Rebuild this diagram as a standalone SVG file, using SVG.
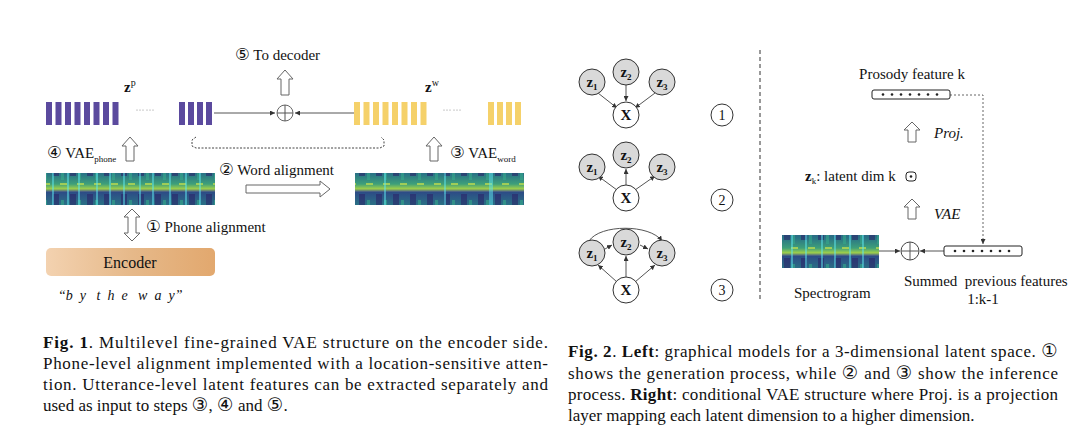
<svg xmlns="http://www.w3.org/2000/svg" width="1080" height="439" viewBox="0 0 1080 439">
<defs>
<style>
text{font-family:"Liberation Serif","Times New Roman",serif;fill:#111}
.c{font-family:"DejaVu Sans",sans-serif;font-size:1.1em}
.lbl{font-size:15px}
.cap{font-size:17px}
.p{fill:#5b4a9e}
.y{fill:#f5d16a}
.hol{fill:#fff;stroke:#666;stroke-width:1}
.ln{stroke:#555;stroke-width:1;fill:none}
.node{fill:#d9d9d9;stroke:#333;stroke-width:1}
.xn{fill:#fff;stroke:#333;stroke-width:1}
.nt{font-size:15px;font-weight:bold;text-anchor:middle}
.dd{fill:#888}
</style>
<marker id="ah" viewBox="0 0 6 6" refX="6" refY="3" markerWidth="5" markerHeight="5" orient="auto"><path d="M0,0L6,3L0,6z" fill="#333"/></marker>
<linearGradient id="enc" x1="0" y1="0" x2="1" y2="0"><stop offset="0" stop-color="#f3d2b0"/><stop offset="0.5" stop-color="#e6b98a"/><stop offset="1" stop-color="#e2a86e"/></linearGradient>
<linearGradient id="spv" x1="0" y1="0" x2="0" y2="1"><stop offset="0" stop-color="#2d4b86"/><stop offset="0.45" stop-color="#2a7585"/><stop offset="0.75" stop-color="#3e9f7a"/><stop offset="0.9" stop-color="#9fcf4a"/><stop offset="1" stop-color="#3b4f90"/></linearGradient>
<pattern id="sp" width="17" height="32" patternUnits="userSpaceOnUse"><rect width="17" height="32" fill="url(#spv)"/><rect x="2" y="2" width="6" height="14" fill="#2a1f66" opacity="0.55"/><rect x="10" y="8" width="3" height="12" fill="#36a98a" opacity="0.6"/><rect x="9" y="23" width="7" height="2" fill="#c8e04a" opacity="0.7"/></pattern>
</defs>

<g id="fig1">
<g id="zp"><text x="124" y="92" class="lbl" font-weight="bold">z<tspan font-size="10" dy="-6" font-weight="normal">p</tspan></text>
<rect class="p" x="46" y="102" width="6" height="23"/><rect class="p" x="55.5" y="102" width="6" height="23"/><rect class="p" x="65" y="102" width="6" height="23"/><rect class="p" x="74.5" y="102" width="6" height="23"/><rect class="p" x="84" y="102" width="6" height="23"/><rect class="p" x="93.5" y="102" width="6" height="23"/><rect class="p" x="103" y="102" width="6" height="23"/><rect class="p" x="112.5" y="102" width="6" height="23"/>
<g class="dd"><circle cx="137" cy="110" r="0.6"/><circle cx="140" cy="110" r="0.6"/><circle cx="143" cy="110" r="0.6"/><circle cx="147" cy="110" r="0.6"/><circle cx="150" cy="110" r="0.6"/><circle cx="153" cy="110" r="0.6"/></g>
<rect class="p" x="179" y="102" width="6" height="23"/><rect class="p" x="188" y="102" width="6" height="23"/><rect class="p" x="197" y="102" width="6" height="23"/><rect class="p" x="206" y="102" width="6" height="23"/></g>
<g id="zw"><text x="425" y="92" class="lbl" font-weight="bold">z<tspan font-size="10" dy="-6" font-weight="normal">w</tspan></text>
<rect class="y" x="354" y="102" width="6" height="23"/><rect class="y" x="363.5" y="102" width="6" height="23"/><rect class="y" x="373" y="102" width="6" height="23"/><rect class="y" x="382.5" y="102" width="6" height="23"/><rect class="y" x="392" y="102" width="6" height="23"/><rect class="y" x="401.5" y="102" width="6" height="23"/><rect class="y" x="411" y="102" width="6" height="23"/><rect class="y" x="420.5" y="102" width="6" height="23"/>
<g class="dd"><circle cx="444" cy="110" r="0.6"/><circle cx="447" cy="110" r="0.6"/><circle cx="450" cy="110" r="0.6"/><circle cx="454" cy="110" r="0.6"/><circle cx="457" cy="110" r="0.6"/><circle cx="460" cy="110" r="0.6"/></g>
<rect class="y" x="488" y="102" width="6" height="23"/><rect class="y" x="497" y="102" width="6" height="23"/><rect class="y" x="506" y="102" width="6" height="23"/><rect class="y" x="515" y="102" width="6" height="23"/></g>
<g id="sum1"><circle cx="285" cy="113" r="8" fill="#fff" stroke="#666"/><path class="ln" d="M277,113H293M285,105V121"/></g>
<g id="todec"><text x="235" y="60" class="lbl"><tspan class="c">⑤</tspan> To decoder</text>
<path class="hol" d="M281,95V79H277L285,70L293,79H289V95Z"/></g>
<g id="vaep"><text x="47" y="158" class="lbl"><tspan class="c">④</tspan> VAE<tspan font-size="9" dy="4">phone</tspan></text>
<path class="hol" d="M126,161V146H122L130,137L138,146H134V161Z"/></g>
<g id="vaew"><text x="450" y="158" class="lbl"><tspan class="c">③</tspan> VAE<tspan font-size="9" dy="4">word</tspan></text>
<path class="hol" d="M430,161V146H426L434,137L442,146H438V161Z"/></g>
<g id="spec1"><rect x="46" y="173" width="169" height="32" fill="url(#sp)"/>
<path stroke="#5ee8f0" stroke-width="1" d="M53,173v32M68,173v32M79,173v32M97,173v32M110,173v32M124,173v32M140,173v32M153,173v32M170,173v32M186,173v32M200,173v32"/></g>
<g id="spec2"><rect x="355" y="173" width="169" height="32" fill="url(#sp)"/>
<path stroke="#5ee8f0" stroke-width="1" d="M385,173v32M445,173v32M490,173v32M492,173v32"/></g>
<g id="wordal"><text x="219" y="175" class="lbl"><tspan class="c">②</tspan> Word alignment</text>
<path class="hol" d="M246,185H320V181L330,189L320,197V193H246Z"/></g>
<g id="phoneal"><path class="hol" d="M128,217H124L132,209L140,217H136V233H140L132,241L124,233H128Z"/>
<text x="146" y="232" class="lbl"><tspan class="c">①</tspan> Phone alignment</text></g>
<g id="encoder"><rect x="46" y="248" width="169" height="28" rx="5" fill="url(#enc)"/><text x="130" y="268" font-size="16" text-anchor="middle">Encoder</text></g>
<text x="58" y="300" font-size="14" font-style="italic" xml:space="preserve">“b  y   t  h  e   w  a  y”</text>
</g>

<g id="connectors1">
<path class="ln" d="M214,113H275" marker-end="url(#ah)"/>
<path class="ln" d="M354,113H295" marker-end="url(#ah)"/>
<path d="M196,137L192,140V146L196,148H380L384,146V140L381,137" fill="none" stroke="#444" stroke-dasharray="2,1.5"/>
</g>

<g id="cap1" class="cap">
<text x="43" y="348" textLength="505" lengthAdjust="spacing"><tspan font-weight="bold">Fig. 1</tspan>.  Multilevel fine-grained VAE structure on the encoder side.</text>
<text x="43" y="369" textLength="505" lengthAdjust="spacing">Phone-level alignment implemented with a location-sensitive atten-</text>
<text x="43" y="390" textLength="505" lengthAdjust="spacing">tion. Utterance-level latent features can be extracted separately and</text>
<text x="43" y="411">used as input to steps <tspan class="c">③</tspan>, <tspan class="c">④</tspan> and <tspan class="c">⑤</tspan>.</text>
</g>

<line x1="760" y1="50" x2="760" y2="300" stroke="#333" stroke-dasharray="4,3"/>

<g id="connectors2">
<path class="ln" d="M598,93L617,108" marker-end="url(#ah)"/><path class="ln" d="M626,85V101" marker-end="url(#ah)"/><path class="ln" d="M655,93L635,108" marker-end="url(#ah)"/>
<path class="ln" d="M617,190L598,176" marker-end="url(#ah)"/><path class="ln" d="M626,185V169" marker-end="url(#ah)"/><path class="ln" d="M635,190L655,176" marker-end="url(#ah)"/>
<path class="ln" d="M617,282L598,265" marker-end="url(#ah)"/><path class="ln" d="M626,277V256" marker-end="url(#ah)"/><path class="ln" d="M635,282L655,265" marker-end="url(#ah)"/>
<path class="ln" d="M605,249L612,245" marker-end="url(#ah)"/><path class="ln" d="M640,245L648,249" marker-end="url(#ah)"/>
<path class="ln" d="M589,241C600,224 650,224 662,241" marker-end="url(#ah)"/>
<path class="ln" d="M879,251H900" marker-end="url(#ah)"/>
<path class="ln" d="M944,251H920" marker-end="url(#ah)"/>
<path d="M950,95H983V244" fill="none" stroke="#666" stroke-dasharray="2,2" marker-end="url(#ah)"/>
</g>

<g id="g1"><circle class="node" cx="592" cy="82" r="13"/><text class="nt" x="592" y="87">z<tspan font-size="9" dy="3">1</tspan></text>
<circle class="node" cx="626" cy="72" r="13"/><text class="nt" x="626" y="77">z<tspan font-size="9" dy="3">2</tspan></text>
<circle class="node" cx="662" cy="82" r="13"/><text class="nt" x="662" y="87">z<tspan font-size="9" dy="3">3</tspan></text>
<circle class="xn" cx="626" cy="115" r="13"/><text class="nt" x="626" y="120">X</text></g>
<g id="g2"><circle class="node" cx="592" cy="167" r="13"/><text class="nt" x="592" y="172">z<tspan font-size="9" dy="3">1</tspan></text>
<circle class="node" cx="626" cy="155" r="13"/><text class="nt" x="626" y="160">z<tspan font-size="9" dy="3">2</tspan></text>
<circle class="node" cx="662" cy="167" r="13"/><text class="nt" x="662" y="172">z<tspan font-size="9" dy="3">3</tspan></text>
<circle class="xn" cx="626" cy="198" r="13"/><text class="nt" x="626" y="203">X</text></g>
<g id="g3"><circle class="node" cx="592" cy="253" r="13"/><text class="nt" x="592" y="258">z<tspan font-size="9" dy="3">1</tspan></text>
<circle class="node" cx="626" cy="242" r="13"/><text class="nt" x="626" y="247">z<tspan font-size="9" dy="3">2</tspan></text>
<circle class="node" cx="662" cy="253" r="13"/><text class="nt" x="662" y="258">z<tspan font-size="9" dy="3">3</tspan></text>
<circle class="xn" cx="626" cy="290" r="13"/><text class="nt" x="626" y="295">X</text></g>
<g id="nums"><circle cx="722" cy="115" r="11" fill="#fff" stroke="#333"/><text x="722" y="120" font-size="14" text-anchor="middle" font-family="Liberation Sans,sans-serif">1</text>
<circle cx="722" cy="200" r="11" fill="#fff" stroke="#333"/><text x="722" y="205" font-size="14" text-anchor="middle" font-family="Liberation Sans,sans-serif">2</text>
<circle cx="722" cy="290" r="11" fill="#fff" stroke="#333"/><text x="722" y="295" font-size="14" text-anchor="middle" font-family="Liberation Sans,sans-serif">3</text></g>

<g id="pros"><text x="912" y="79" class="lbl" text-anchor="middle">Prosody feature k</text>
<rect x="872" y="90" width="78" height="9" rx="2" fill="#fff" stroke="#222"/>
<g fill="#222"><circle cx="883" cy="94.5" r="1.3"/><circle cx="892" cy="94.5" r="1.3"/><circle cx="901" cy="94.5" r="1.3"/><circle cx="910" cy="94.5" r="1.3"/><circle cx="919" cy="94.5" r="1.3"/><circle cx="928" cy="94.5" r="1.3"/><circle cx="937" cy="94.5" r="1.3"/></g></g>
<g id="proj"><path class="hol" d="M908,142V130H904L912,122L920,130H916V142Z"/><text x="934" y="138" class="lbl" font-style="italic">Proj.</text></g>
<g id="zk"><text x="805" y="181" class="lbl"><tspan font-weight="bold">z</tspan><tspan font-size="9" dy="3">k</tspan><tspan dy="-3">: latent dim k</tspan></text>
<rect x="906" y="172" width="10" height="9" rx="3" fill="#fff" stroke="#222"/><circle cx="911" cy="176.5" r="1.3" fill="#222"/></g>
<g id="vae"><path class="hol" d="M908,219V207H904L912,199L920,207H916V219Z"/><text x="934" y="219" class="lbl" font-style="italic">VAE</text></g>
<g id="spec3"><rect x="782" y="235" width="97" height="33" fill="url(#sp)"/>
<path stroke="#5ee8f0" stroke-width="1" d="M792,235v33M806,235v33M822,235v33M835,235v33M850,235v33M863,235v33"/><text x="794" y="298" class="lbl">Spectrogram</text></g>
<g id="sum2"><circle cx="910" cy="251" r="9" fill="#fff" stroke="#444"/><path class="ln" d="M901,251H919M910,242V260"/></g>
<g id="summed"><rect x="944" y="246" width="78" height="10" rx="2" fill="#fff" stroke="#222"/>
<g fill="#222"><circle cx="955" cy="251" r="1.3"/><circle cx="964" cy="251" r="1.3"/><circle cx="973" cy="251" r="1.3"/><circle cx="982" cy="251" r="1.3"/><circle cx="991" cy="251" r="1.3"/><circle cx="1000" cy="251" r="1.3"/><circle cx="1009" cy="251" r="1.3"/></g>
<text x="904" y="286" class="lbl" xml:space="preserve">Summed  previous features</text><text x="983" y="304" class="lbl" text-anchor="middle">1:k-1</text></g>

<g id="cap2" class="cap">
<text x="568" y="357" textLength="490" lengthAdjust="spacing"><tspan font-weight="bold">Fig. 2</tspan>. <tspan font-weight="bold">Left</tspan>: graphical models for a 3-dimensional latent space. <tspan class="c">①</tspan></text>
<text x="568" y="379" textLength="490" lengthAdjust="spacing">shows the generation process, while <tspan class="c">②</tspan> and <tspan class="c">③</tspan> show the inference</text>
<text x="568" y="400" textLength="490" lengthAdjust="spacing">process. <tspan font-weight="bold">Right</tspan>: conditional VAE structure where Proj. is a projection</text>
<text x="568" y="421">layer mapping each latent dimension to a higher dimension.</text>
</g>
</svg>
